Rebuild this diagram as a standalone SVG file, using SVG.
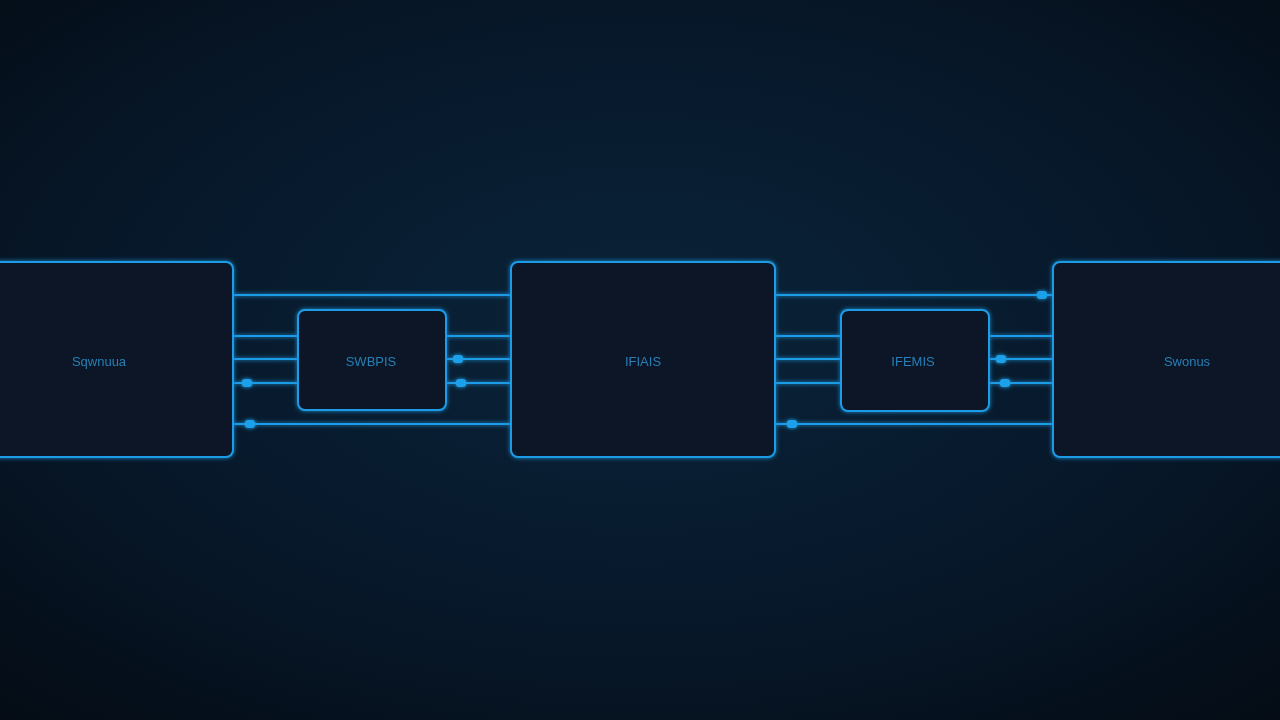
<svg xmlns="http://www.w3.org/2000/svg" width="1280" height="720" viewBox="0 0 1280 720">
<defs>
<radialGradient id="bg" cx="0.5" cy="0.45" r="0.75">
<stop offset="0" stop-color="#0a2339"/>
<stop offset="0.55" stop-color="#07182a"/>
<stop offset="1" stop-color="#040b14"/>
</radialGradient>
<filter id="glow" x="-20%" y="-20%" width="140%" height="140%">
<feGaussianBlur stdDeviation="2" result="b"/>
<feMerge><feMergeNode in="b"/><feMergeNode in="SourceGraphic"/></feMerge>
</filter>
<style>
.box{fill:#071727;stroke:#1d9be6;stroke-width:2}
.ln{stroke:#1d9be6;stroke-width:2;fill:none}
.dot{fill:#1fa0ea}
.lbl{font-family:"Liberation Sans",Arial,sans-serif;font-size:13px;fill:#2a7fb6;text-anchor:middle;dominant-baseline:central}
</style>
</defs>
<rect width="1280" height="720" fill="url(#bg)"/>
<g id="connectors" filter="url(#glow)">
<path class="ln" d="M233 295H511M233 336H298M446 336H511M233 359H298M446 359H511M233 383H298M446 383H511M233 424H511"/>
<path class="ln" d="M775 295H1053M775 336H841M989 336H1053M775 359H841M989 359H1053M775 383H841M989 383H1053M775 424H1053"/>
<rect class="dot" x="242" y="379" width="10" height="8" rx="3"/>
<rect class="dot" x="245" y="420" width="10" height="8" rx="3"/>
<rect class="dot" x="453" y="355" width="10" height="8" rx="3"/>
<rect class="dot" x="456" y="379" width="10" height="8" rx="3"/>
<rect class="dot" x="787" y="420" width="10" height="8" rx="3"/>
<rect class="dot" x="1037" y="291" width="10" height="8" rx="3"/>
<rect class="dot" x="996" y="355" width="10" height="8" rx="3"/>
<rect class="dot" x="1000" y="379" width="10" height="8" rx="3"/>
</g>
<g id="node-left" filter="url(#glow)">
<rect class="box" x="-20" y="262" width="253" height="195" rx="7"/>
<text class="lbl" x="99" y="361">Sqwnuua</text>
</g>
<g id="node-small-left" filter="url(#glow)">
<rect class="box" x="298" y="310" width="148" height="100" rx="7"/>
<text class="lbl" x="371" y="361">SWBPIS</text>
</g>
<g id="node-center" filter="url(#glow)">
<rect class="box" x="511" y="262" width="264" height="195" rx="7"/>
<text class="lbl" x="643" y="361">IFIAIS</text>
</g>
<g id="node-small-right" filter="url(#glow)">
<rect class="box" x="841" y="310" width="148" height="101" rx="7"/>
<text class="lbl" x="913" y="361">IFEMIS</text>
</g>
<g id="node-right" filter="url(#glow)">
<rect class="box" x="1053" y="262" width="250" height="195" rx="7"/>
<text class="lbl" x="1187" y="361">Swonus</text>
</g>
</svg>
